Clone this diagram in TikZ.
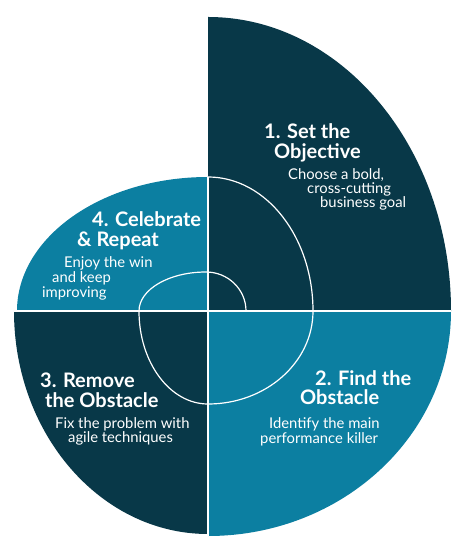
\documentclass[tikz,border=0pt]{standalone}
\usepackage{fontspec}
\setmainfont{Lato}
\definecolor{navy}{RGB}{8,56,72}
\definecolor{sea}{RGB}{12,127,161}

\begin{document}
\begin{tikzpicture}[x=1pt,y=1pt,
  head/.style={anchor=base west, inner sep=0pt, text=white, font=\bfseries\fontsize{20}{20}\selectfont},
  blurb/.style={anchor=base west, inner sep=0pt, text=white, font=\fontsize{14.8}{15}\selectfont}]
\useasboundingbox (-208,-234) rectangle (266,311);
% four quarters of the outer spiral
\fill[navy] (0,0) -- (0,294) arc[start angle=90, end angle=0, x radius=243pt, y radius=294pt] -- cycle;
\fill[sea] (0,0) -- (243,0) arc[start angle=0, end angle=-90, x radius=243pt, y radius=225pt] -- cycle;
\fill[navy] (0,0) -- (0,-223) arc[start angle=-90, end angle=-180, x radius=194pt, y radius=223pt] -- cycle;
\fill[sea] (0,0) -- (-191,0) arc[start angle=180, end angle=90, x radius=191pt, y radius=134pt] -- cycle;
% dividers and inner spiral
\draw[white, line width=1.3pt] (-194,0) -- (243,0);
\draw[white, line width=1.3pt] (0,134) -- (0,-225);
\draw[white, line width=1.2pt] (0,134)
  arc[start angle=90, end angle=0, x radius=105pt, y radius=134pt]
  arc[start angle=0, end angle=-90, x radius=105pt, y radius=93pt]
  arc[start angle=-90, end angle=-180, x radius=69pt, y radius=93pt]
  arc[start angle=180, end angle=90, x radius=67pt, y radius=39pt]
  arc[start angle=90, end angle=0, x radius=40pt, y radius=39pt];
% 1
\node[head] (set1) at (56,172) {1. Set the};
\node[head] (set2) at (66,152) {Objective};
\node[blurb] (setb1) at (80,131) {Choose a bold,};
\node[blurb] (setb2) at (99,117) {cross-cutting};
\node[blurb] (setb3) at (112,103) {business goal};
% 2
\node[head] (find1) at (107,-75) {2. Find the};
\node[head] (find2) at (92,-94) {Obstacle};
\node[blurb] (findb1) at (61,-117) {Identify the main};
\node[blurb] (findb2) at (52,-132) {performance killer};
% 3
\node[head] (rem1) at (-168,-77) {3. Remove};
\node[head] (rem2) at (-163,-96) {the Obstacle};
\node[blurb] (remb1) at (-153,-117) {Fix the problem with};
\node[blurb] (remb2) at (-140,-131) {agile techniques};
% 4
\node[head] (cel1) at (-116,84) {4. Celebrate};
\node[head] (cel2) at (-131,64) {\& Repeat};
\node[blurb] (celb1) at (-144,43) {Enjoy the win};
\node[blurb] (celb2) at (-156,28) {and keep};
\node[blurb] (celb3) at (-166,13) {improving};
\end{tikzpicture}
\end{document}
